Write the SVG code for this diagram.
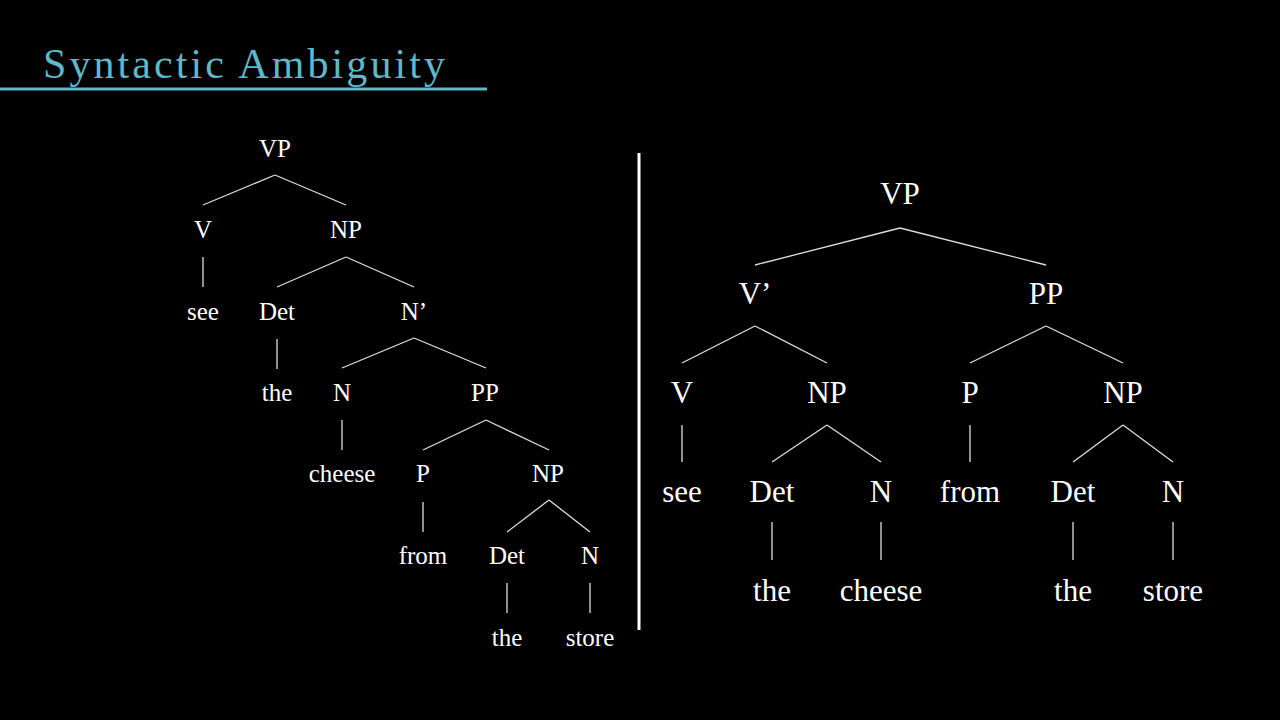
<svg xmlns="http://www.w3.org/2000/svg" width="1280" height="720" viewBox="0 0 1280 720">
<style>
text{font-family:"Liberation Serif","DejaVu Serif",serif;fill:#fff;text-anchor:middle;dominant-baseline:central}
.s{font-size:25px}.b{font-size:31px}
.e line{stroke:#ddd;stroke-width:1.3}
</style>
<rect width="1280" height="720" fill="#000"/>
<g id="title"><text x="43" y="64" textLength="402" lengthAdjust="spacing" style="font-size:42px;fill:#5fb8c8;text-anchor:start">Syntactic Ambiguity</text>
<line x1="0" y1="89" x2="487" y2="89" stroke="#5fb8c8" stroke-width="3"/></g>
<line x1="639" y1="153" x2="639" y2="630" stroke="#fff" stroke-width="3"/>
<g class="e" id="connectors">
<line x1="275" y1="175" x2="203" y2="205"/><line x1="275" y1="175" x2="346" y2="205"/>
<line x1="203" y1="257" x2="203" y2="287"/>
<line x1="346" y1="257" x2="277" y2="287"/><line x1="346" y1="257" x2="414" y2="287"/>
<line x1="277" y1="339" x2="277" y2="369"/>
<line x1="414" y1="338" x2="342" y2="368"/><line x1="414" y1="338" x2="486" y2="368"/>
<line x1="342" y1="420" x2="342" y2="450"/>
<line x1="486" y1="420" x2="423" y2="450"/><line x1="486" y1="420" x2="549" y2="450"/>
<line x1="423" y1="502" x2="423" y2="532"/>
<line x1="549" y1="500" x2="507" y2="532"/><line x1="549" y1="500" x2="590" y2="532"/>
<line x1="507" y1="583" x2="507" y2="613"/><line x1="590" y1="583" x2="590" y2="613"/>
<line x1="900" y1="228" x2="755" y2="265"/><line x1="900" y1="228" x2="1046" y2="265"/>
<line x1="755" y1="326" x2="682" y2="363"/><line x1="755" y1="326" x2="827" y2="363"/>
<line x1="1046" y1="326" x2="970" y2="363"/><line x1="1046" y1="326" x2="1123" y2="363"/>
<line x1="682" y1="425" x2="682" y2="462"/>
<line x1="827" y1="425" x2="772" y2="462"/><line x1="827" y1="425" x2="881" y2="462"/>
<line x1="970" y1="425" x2="970" y2="462"/>
<line x1="1123" y1="425" x2="1073" y2="462"/><line x1="1123" y1="425" x2="1173" y2="462"/>
<line x1="772" y1="522" x2="772" y2="560"/><line x1="881" y1="522" x2="881" y2="560"/>
<line x1="1073" y1="522" x2="1073" y2="560"/><line x1="1173" y1="522" x2="1173" y2="560"/>
</g>
<g class="s">
<g id="l1"><text x="275" y="148">VP</text></g>
<g id="l2"><text x="203" y="229">V</text></g>
<g id="l3"><text x="346" y="229">NP</text></g>
<g id="l4"><text x="203" y="311">see</text></g>
<g id="l5"><text x="277" y="311">Det</text></g>
<g id="l6"><text x="414" y="311">N’</text></g>
<g id="l7"><text x="277" y="392">the</text></g>
<g id="l8"><text x="342" y="392">N</text></g>
<g id="l9"><text x="485" y="392">PP</text></g>
<g id="l10"><text x="342" y="473">cheese</text></g>
<g id="l11"><text x="423" y="473">P</text></g>
<g id="l12"><text x="548" y="473">NP</text></g>
<g id="l13"><text x="423" y="555">from</text></g>
<g id="l14"><text x="507" y="555">Det</text></g>
<g id="l15"><text x="590" y="555">N</text></g>
<g id="l16"><text x="507" y="637">the</text></g>
<g id="l17"><text x="590" y="637">store</text></g>
</g>
<g class="b">
<g id="r1"><text x="900" y="193">VP</text></g>
<g id="r2"><text x="755" y="293">V’</text></g>
<g id="r3"><text x="1046" y="293">PP</text></g>
<g id="r4"><text x="682" y="392">V</text></g>
<g id="r5"><text x="827" y="392">NP</text></g>
<g id="r6"><text x="970" y="392">P</text></g>
<g id="r7"><text x="1123" y="392">NP</text></g>
<g id="r8"><text x="682" y="491">see</text></g>
<g id="r9"><text x="772" y="491">Det</text></g>
<g id="r10"><text x="881" y="491">N</text></g>
<g id="r11"><text x="970" y="491">from</text></g>
<g id="r12"><text x="1073" y="491">Det</text></g>
<g id="r13"><text x="1173" y="491">N</text></g>
<g id="r14"><text x="772" y="590">the</text></g>
<g id="r15"><text x="881" y="590">cheese</text></g>
<g id="r16"><text x="1073" y="590">the</text></g>
<g id="r17"><text x="1173" y="590">store</text></g>
</g>
</svg>
